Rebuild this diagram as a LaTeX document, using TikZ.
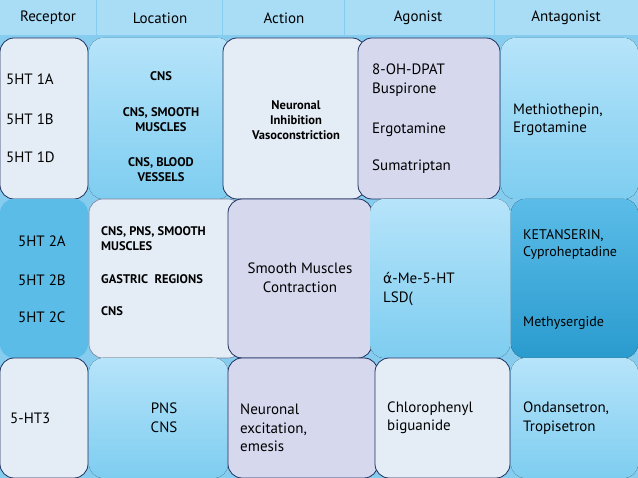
\documentclass[tikz,border=0pt]{standalone}
\usepackage{fontspec}
\setmainfont{PT Sans}
\newfontfamily\djf{DejaVu Sans}
\begin{document}
\begin{tikzpicture}[x=1pt,y=-1pt,
  txt/.style={font=\fontsize{15}{18.5}\selectfont, align=left, inner sep=0},
  btxt/.style={font=\bfseries\fontsize{12.5}{15}\selectfont, align=left, inner sep=0},
  pale/.style={fill=paleC, rounded corners=14pt},
  pb/.style={pale, draw=navy, line width=0.8pt},
  lav/.style={fill=lavC, draw=navy, line width=0.8pt, rounded corners=14pt},
  blu/.style={top color=bluT, bottom color=bluB, rounded corners=14pt},
  hdr/.style={fill=hdrC}]
\definecolor{bgC}{HTML}{86CCEE}
\definecolor{hdrC}{HTML}{A9DCF5}
\definecolor{paleC}{HTML}{E4EDF6}
\definecolor{lavC}{HTML}{D6D8EE}
\definecolor{bluT}{HTML}{B6E4FA}
\definecolor{bluB}{HTML}{7ECDF0}
\definecolor{navy}{HTML}{1E2E5E}
\definecolor{midB}{HTML}{5BBCE8}
\definecolor{darkB}{HTML}{2A9BCE}
\useasboundingbox (0,0) rectangle (638,478);
\fill[bgC] (0,0) rectangle (638,478);
% header
\foreach \a/\b in {0/96,97/222,223/344,345/494,495/638}
  \fill[hdrC] (\a,0) rectangle (\b,35);
\node[txt] (h1) at (48,18) {Receptor};
\node[txt] (h2) at (160,18) {Location};
\node[txt] (h3) at (284,18) {Action};
\node[txt] (h4) at (418,18) {Agonist};
\node[txt] (h5) at (566,18) {Antagonist};
% row 1
\draw[pb] (0,38) rectangle (88,199);
\fill[blu] (89,38) rectangle (232,199);
\draw[pb] (223,38) rectangle (366,199);
\draw[lav] (358,38) rectangle (500,199);
\fill[blu] (501,38) rectangle (638,199);
% row 2
\fill[midB, rounded corners=14pt] (0,199) rectangle (88,358);
\draw[pale, draw=navy!60, line width=0.6pt] (89,199) rectangle (242,358);
\draw[lav] (228,199) rectangle (372,358);
\fill[blu] (370,199) rectangle (510,358);
\fill[top color=midB, bottom color=darkB, rounded corners=14pt] (511,199) rectangle (638,358);
% row 3
\draw[pb] (0,358) rectangle (88,478);
\fill[blu] (89,358) rectangle (228,478);
\draw[lav] (228,358) rectangle (378,478);
\draw[pb] (375,358) rectangle (510,478);
\fill[blu] (511,358) rectangle (638,478);
% texts row1
\node[txt, anchor=west] (a1) at (6,79) {5HT 1A};
\node[txt, anchor=west] (a2) at (6,119) {5HT 1B};
\node[txt, anchor=west] (a3) at (6,157) {5HT 1D};
\node[btxt] (b1) at (161,76) {CNS};
\node[btxt, align=center] (b2) at (161,120) {CNS, SMOOTH\\MUSCLES};
\node[btxt, align=center] (b3) at (161,170) {CNS, BLOOD\\VESSELS};
\node[btxt, align=center] (c1) at (296,120) {Neuronal\\Inhibition\\Vasoconstriction};
\node[txt, anchor=west] (d1) at (372,80) {8-OH-DPAT\\Buspirone};
\node[txt, anchor=west] (d2) at (372,130) {Ergotamine};
\node[txt, anchor=west] (d3) at (372,167) {Sumatriptan};
\node[txt, anchor=west] (e1) at (513,120) {Methiothepin,\\Ergotamine};
% texts row2
\node[txt, anchor=west] (a4) at (18,241) {5HT 2A};
\node[txt, anchor=west] (a5) at (18,280) {5HT 2B};
\node[txt, anchor=west] (a6) at (18,317) {5HT 2C};
\node[btxt, anchor=west] (b4) at (101,239) {CNS, PNS, SMOOTH\\MUSCLES};
\node[btxt, anchor=west] (b5) at (101,279) {GASTRIC~~REGIONS};
\node[btxt, anchor=west] (b6) at (101,311) {CNS};
\node[txt, align=center] (c2) at (300,278) {Smooth Muscles\\Contraction};
\node[txt, anchor=west] (d4) at (383,289) {{\djf\fontsize{14}{18}\selectfont ά}-Me-5-HT\\LSD(};
\node[txt, anchor=west, font=\fontsize{14}{17}\selectfont] (e2) at (523,244) {KETANSERIN,\\Cyproheptadine};
\node[txt, anchor=west, font=\fontsize{14}{17}\selectfont] (e3) at (523,323) {Methysergide};
% texts row3
\node[txt, anchor=west] (a7) at (10,418) {5-HT3};
\node[txt, align=center] (b7) at (164,418) {PNS\\CNS};
\node[txt, anchor=west] (c3) at (240,428) {Neuronal\\excitation,\\emesis};
\node[txt, anchor=west] (d5) at (387,418) {Chlorophenyl\\biguanide};
\node[txt, anchor=west] (e4) at (523,418) {Ondansetron,\\Tropisetron};
\end{tikzpicture}
\end{document}
